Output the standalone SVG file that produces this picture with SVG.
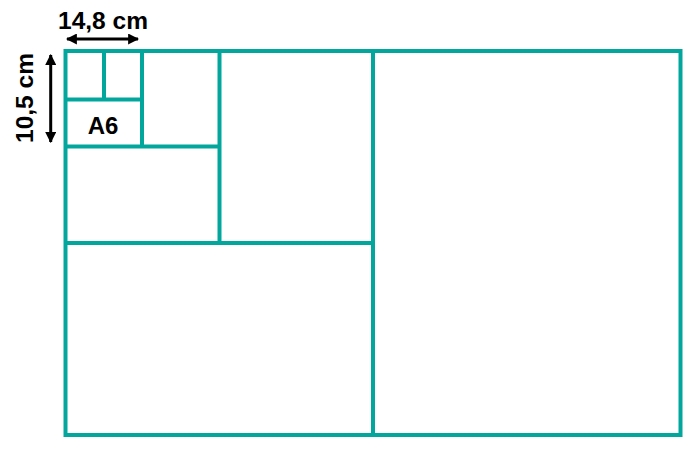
<svg xmlns="http://www.w3.org/2000/svg" width="700" height="453" viewBox="0 0 700 453">
<defs>
<style>
.sheet{fill:none;stroke:#03A69C;stroke-width:4}
.lbl{font-family:"Liberation Sans","DejaVu Sans",sans-serif;font-weight:bold;font-size:24px;fill:#000}
.dim{stroke:#000;stroke-width:3;fill:none}
</style>
<marker id="ah" viewBox="0 0 10 10" refX="9" refY="5" markerWidth="11" markerHeight="11" markerUnits="userSpaceOnUse" orient="auto-start-reverse">
<path d="M0,0 L10,5 L0,10 z" fill="#000"/>
</marker>
</defs>
<rect width="700" height="453" fill="#fff"/>
<g id="sheets">
<g id="A0"><rect class="sheet" x="65.5" y="51" width="615" height="384"/></g>
<g id="A1"><line class="sheet" x1="373" y1="51" x2="373" y2="435"/></g>
<g id="A2"><line class="sheet" x1="65.5" y1="243" x2="373" y2="243"/></g>
<g id="A3"><line class="sheet" x1="219.5" y1="51" x2="219.5" y2="243"/></g>
<g id="A4"><line class="sheet" x1="65.5" y1="146.5" x2="219.5" y2="146.5"/></g>
<g id="A5"><line class="sheet" x1="142" y1="51" x2="142" y2="146.5"/></g>
<g id="A6"><line class="sheet" x1="65.5" y1="99.5" x2="142" y2="99.5"/><text class="lbl" x="103" y="134" text-anchor="middle">A6</text></g>
<g id="A7"><line class="sheet" x1="104" y1="51" x2="104" y2="99.5"/></g>
</g>
<g id="connectors">
<line class="dim" x1="67" y1="39" x2="138" y2="39" marker-start="url(#ah)" marker-end="url(#ah)"/>
<line class="dim" x1="50.7" y1="55" x2="50.7" y2="142" marker-start="url(#ah)" marker-end="url(#ah)"/>
</g>
<g id="labels">
<text class="lbl" x="103" y="28.5" text-anchor="middle" textLength="90" lengthAdjust="spacingAndGlyphs">14,8 cm</text>
<text class="lbl" transform="translate(32.5,98) rotate(-90)" x="0" y="0" text-anchor="middle" textLength="90" lengthAdjust="spacingAndGlyphs">10,5 cm</text>
</g>
</svg>
